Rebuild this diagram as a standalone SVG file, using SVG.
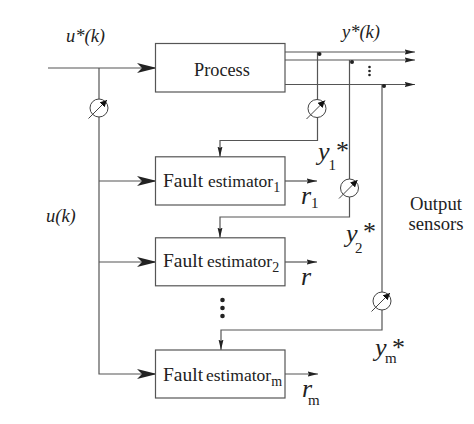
<svg xmlns="http://www.w3.org/2000/svg" width="474" height="424" viewBox="0 0 474 424">
<style>
text{font-family:"Liberation Serif","Times New Roman",serif;fill:#222}
.box{fill:#fff;stroke:#555;stroke-width:1.2}
.w{fill:none;stroke:#555;stroke-width:1.2}
.m{fill:none;stroke:#444;stroke-width:1}
.big{font-size:18.300px}
.fault{font-size:19.500px}
.est{font-size:17.500px}
.i{font-style:italic;font-size:18.500px}
.y{font-size:26px}
.it{font-style:italic}
.s{font-size:15px}
.sub{font-size:14px}
.l{font-size:18.700px}
.d{fill:#222}
</style>
<defs>
<marker id="big" markerUnits="userSpaceOnUse" markerWidth="19" markerHeight="10" refX="18" refY="5" orient="auto"><path d="M0 0L18 4.500V5.500L0 10L5 5Z" fill="#222"/></marker>
<marker id="sm" markerUnits="userSpaceOnUse" markerWidth="11" markerHeight="6" refX="10.500" refY="3" orient="auto"><path d="M0 .5L10.500 3L0 5.500L1.500 3Z" fill="#222"/></marker>
<marker id="mt" markerUnits="userSpaceOnUse" markerWidth="8" markerHeight="7" refX="7" refY="3.500" orient="auto"><path d="M0 0L7 3.500L0 7Z" fill="#111"/></marker>
<g id="meter"><circle r="9" fill="#fff" stroke="#444" stroke-width="1"/><path d="M-10.500 10.500L8 -8" class="m" marker-end="url(#mt)"/></g>
</defs>
<g id="connectors">
<path class="w" d="M48 68H155" marker-end="url(#big)"/>
<path class="w" d="M99 68V374H155" marker-end="url(#big)"/>
<path class="w" d="M99 181H155" marker-end="url(#big)"/>
<path class="w" d="M99 262H155" marker-end="url(#big)"/>
<path class="w" d="M285 52H415" marker-end="url(#sm)"/>
<path class="w" d="M285 60H415" marker-end="url(#sm)"/>
<path class="w" d="M285 84.500H415" marker-end="url(#sm)"/>
<path class="w" d="M317.500 52V140.500H220V157" marker-end="url(#sm)"/>
<path class="w" d="M349.500 60V217H220V238" marker-end="url(#sm)"/>
<path class="w" d="M382 85V330H221V350" marker-end="url(#sm)"/>
<path class="w" d="M285 181H317" marker-end="url(#sm)"/>
<path class="w" d="M285 262H317" marker-end="url(#sm)"/>
<path class="w" d="M285 374H318" marker-end="url(#sm)"/>
<circle class="d" cx="319.500" cy="54" r="2"/>
<circle class="d" cx="352" cy="62" r="2"/>
<circle class="d" cx="384" cy="86" r="2"/>
<circle class="d" cx="369.500" cy="67" r="1.300"/>
<circle class="d" cx="369.500" cy="71" r="1.300"/>
<circle class="d" cx="369.500" cy="75" r="1.300"/>
<circle class="d" cx="222.500" cy="300" r="2.300"/>
<circle class="d" cx="222.500" cy="308" r="2.300"/>
<circle class="d" cx="222.500" cy="316" r="2.300"/>
</g>
<g id="meter-u"><use href="#meter" x="99" y="108"/></g>
<g id="meter-1"><use href="#meter" x="317" y="108.500"/></g>
<g id="meter-2"><use href="#meter" x="349.500" y="188"/></g>
<g id="meter-m"><use href="#meter" x="382" y="301"/></g>
<g id="process"><rect class="box" x="155.500" y="43.500" width="129.500" height="48.500"/><text class="big" x="194" y="75.500">Process</text></g>
<g id="fault-estimator-1"><rect class="box" x="155.500" y="156.800" width="129.500" height="48.200"/><text x="163" y="186.500"><tspan class="fault">Fault</tspan><tspan class="est" x="208">estimator</tspan><tspan class="sub" dy="5">1</tspan></text></g>
<g id="fault-estimator-2"><rect class="box" x="155.500" y="237.800" width="129.500" height="48"/><text x="163" y="267"><tspan class="fault">Fault</tspan><tspan class="est" x="207">estimator</tspan><tspan class="sub" dy="5">2</tspan></text></g>
<g id="fault-estimator-m"><rect class="box" x="155.500" y="350" width="129.500" height="48"/><text x="163" y="381"><tspan class="fault">Fault</tspan><tspan class="est" x="206">estimator</tspan><tspan class="sub" dy="5">m</tspan></text></g>
<g id="labels">
<text class="i" x="66" y="42">u*(k)</text>
<text class="i" x="342" y="38">y*(k)</text>
<text class="i" x="46" y="222">u(k)</text>
<text class="y" x="318" y="160"><tspan class="it">y</tspan><tspan x="336" dy="-1">*</tspan><tspan class="s" x="328.500" dy="11">1</tspan></text>
<text class="y" x="346" y="242"><tspan class="it">y</tspan><tspan x="363" dy="-2">*</tspan><tspan class="s" x="355" dy="13">2</tspan></text>
<text class="y" x="375" y="356"><tspan class="it">y</tspan><tspan x="392" dy="0">*</tspan><tspan class="s" x="385" dy="7">m</tspan></text>
<text class="y" x="301" y="204"><tspan class="it">r</tspan><tspan class="s" x="311" dy="4">1</tspan></text>
<text class="y it" x="301" y="285">r</text>
<text class="y" x="302" y="397"><tspan class="it">r</tspan><tspan class="s" x="308" dy="8">m</tspan></text>
<text class="l" x="436" y="210" text-anchor="middle">Output</text>
<text class="l" x="436" y="230" text-anchor="middle">sensors</text>
</g>
</svg>
